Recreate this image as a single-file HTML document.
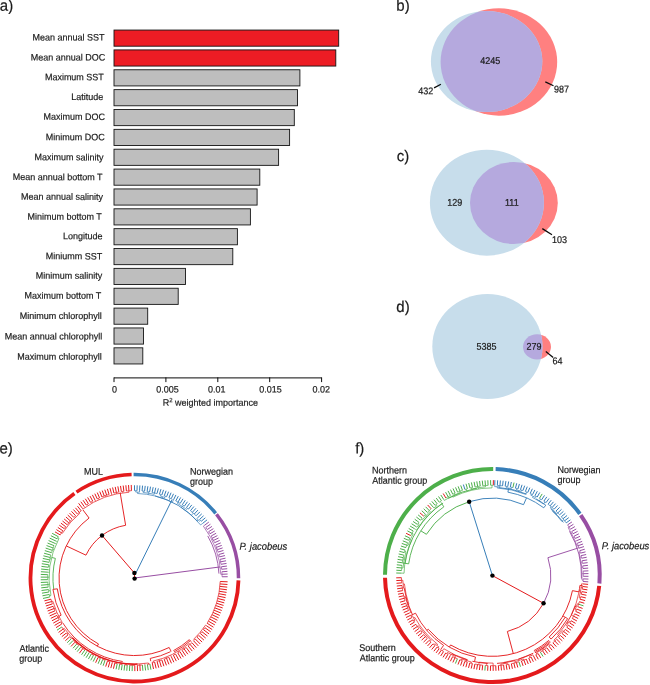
<!DOCTYPE html>
<html lang="en"><head><meta charset="utf-8"><title>Figure</title>
<style>html,body{margin:0;padding:0;background:#fff;}svg{display:block;}</style>
</head><body>
<svg width="650" height="685" viewBox="0 0 650 685">
<rect x="0" y="0" width="650" height="685" fill="#fff"/>
<g id="panel-a">
<text transform="matrix(1 0.001 0 1.04 -0.2 10.7)" font-size="15" font-family="Liberation Sans, Arial, Helvetica, sans-serif" stroke="#1a1a1a" stroke-width="0.18" fill="#1a1a1a">a)</text>
<rect x="114" y="30.05" width="224.7" height="16.15" fill="#ed1c24" stroke="#141414" stroke-width="0.9"/>
<text transform="matrix(1 0.001 0 1.04 104.55 40.6)" font-size="9" text-anchor="end" font-family="Liberation Sans, Arial, Helvetica, sans-serif" stroke="#1a1a1a" stroke-width="0.18" fill="#1a1a1a">Mean annual SST</text>
<rect x="114" y="49.91" width="221.8" height="16.15" fill="#ed1c24" stroke="#141414" stroke-width="0.9"/>
<text transform="matrix(1 0.001 0 1.04 105.25 60.5)" font-size="9" text-anchor="end" font-family="Liberation Sans, Arial, Helvetica, sans-serif" stroke="#1a1a1a" stroke-width="0.18" fill="#1a1a1a">Mean annual DOC</text>
<rect x="114" y="69.77" width="185.9" height="16.15" fill="#bebebe" stroke="#141414" stroke-width="0.9"/>
<text transform="matrix(1 0.001 0 1.04 103.85 80.3)" font-size="9" text-anchor="end" font-family="Liberation Sans, Arial, Helvetica, sans-serif" stroke="#1a1a1a" stroke-width="0.18" fill="#1a1a1a">Maximum SST</text>
<rect x="114" y="89.63" width="183.5" height="16.15" fill="#bebebe" stroke="#141414" stroke-width="0.9"/>
<text transform="matrix(1 0.001 0 1.04 103.25 100)" font-size="9" text-anchor="end" font-family="Liberation Sans, Arial, Helvetica, sans-serif" stroke="#1a1a1a" stroke-width="0.18" fill="#1a1a1a">Latitude</text>
<rect x="114" y="109.49" width="180.3" height="16.15" fill="#bebebe" stroke="#141414" stroke-width="0.9"/>
<text transform="matrix(1 0.001 0 1.04 104.95 119.9)" font-size="9" text-anchor="end" font-family="Liberation Sans, Arial, Helvetica, sans-serif" stroke="#1a1a1a" stroke-width="0.18" fill="#1a1a1a">Maximum DOC</text>
<rect x="114" y="129.35" width="175.6" height="16.15" fill="#bebebe" stroke="#141414" stroke-width="0.9"/>
<text transform="matrix(1 0.001 0 1.04 104.8 140.2)" font-size="9" text-anchor="end" font-family="Liberation Sans, Arial, Helvetica, sans-serif" stroke="#1a1a1a" stroke-width="0.18" fill="#1a1a1a">Minimum DOC</text>
<rect x="114" y="149.21" width="164.6" height="16.15" fill="#bebebe" stroke="#141414" stroke-width="0.9"/>
<text transform="matrix(1 0.001 0 1.04 103.4 160.4)" font-size="9" text-anchor="end" font-family="Liberation Sans, Arial, Helvetica, sans-serif" stroke="#1a1a1a" stroke-width="0.18" fill="#1a1a1a">Maximum salinity</text>
<rect x="114" y="169.07" width="145.8" height="16.15" fill="#bebebe" stroke="#141414" stroke-width="0.9"/>
<text transform="matrix(1 0.001 0 1.04 102.6 180.2)" font-size="9" text-anchor="end" font-family="Liberation Sans, Arial, Helvetica, sans-serif" stroke="#1a1a1a" stroke-width="0.18" fill="#1a1a1a">Mean annual bottom T</text>
<rect x="114" y="188.93" width="143.1" height="16.15" fill="#bebebe" stroke="#141414" stroke-width="0.9"/>
<text transform="matrix(1 0.001 0 1.04 102.9 199.9)" font-size="9" text-anchor="end" font-family="Liberation Sans, Arial, Helvetica, sans-serif" stroke="#1a1a1a" stroke-width="0.18" fill="#1a1a1a">Mean annual salinity</text>
<rect x="114" y="208.79" width="136.4" height="16.15" fill="#bebebe" stroke="#141414" stroke-width="0.9"/>
<text transform="matrix(1 0.001 0 1.04 101.85 219.8)" font-size="9" text-anchor="end" font-family="Liberation Sans, Arial, Helvetica, sans-serif" stroke="#1a1a1a" stroke-width="0.18" fill="#1a1a1a">Minimum bottom T</text>
<rect x="114" y="228.65" width="123.4" height="16.15" fill="#bebebe" stroke="#141414" stroke-width="0.9"/>
<text transform="matrix(1 0.001 0 1.04 102.45 239.3)" font-size="9" text-anchor="end" font-family="Liberation Sans, Arial, Helvetica, sans-serif" stroke="#1a1a1a" stroke-width="0.18" fill="#1a1a1a">Longitude</text>
<rect x="114" y="248.51" width="118.8" height="16.15" fill="#bebebe" stroke="#141414" stroke-width="0.9"/>
<text transform="matrix(1 0.001 0 1.04 102.15 259.4)" font-size="9" text-anchor="end" font-family="Liberation Sans, Arial, Helvetica, sans-serif" stroke="#1a1a1a" stroke-width="0.18" fill="#1a1a1a">Miniumm SST</text>
<rect x="114" y="268.37" width="71.5" height="16.15" fill="#bebebe" stroke="#141414" stroke-width="0.9"/>
<text transform="matrix(1 0.001 0 1.04 102.15 278.7)" font-size="9" text-anchor="end" font-family="Liberation Sans, Arial, Helvetica, sans-serif" stroke="#1a1a1a" stroke-width="0.18" fill="#1a1a1a">Minimum salinity</text>
<rect x="114" y="288.23" width="64.2" height="16.15" fill="#bebebe" stroke="#141414" stroke-width="0.9"/>
<text transform="matrix(1 0.001 0 1.04 101.2 298.7)" font-size="9" text-anchor="end" font-family="Liberation Sans, Arial, Helvetica, sans-serif" stroke="#1a1a1a" stroke-width="0.18" fill="#1a1a1a">Maximum bottom T</text>
<rect x="114" y="308.09" width="33.7" height="16.15" fill="#bebebe" stroke="#141414" stroke-width="0.9"/>
<text transform="matrix(1 0.001 0 1.04 101.7 319)" font-size="9" text-anchor="end" font-family="Liberation Sans, Arial, Helvetica, sans-serif" stroke="#1a1a1a" stroke-width="0.18" fill="#1a1a1a">Minimum chlorophyll</text>
<rect x="114" y="327.95" width="29.5" height="16.15" fill="#bebebe" stroke="#141414" stroke-width="0.9"/>
<text transform="matrix(1 0.001 0 1.04 102.3 339.5)" font-size="9" text-anchor="end" font-family="Liberation Sans, Arial, Helvetica, sans-serif" stroke="#1a1a1a" stroke-width="0.18" fill="#1a1a1a">Mean annual chlorophyll</text>
<rect x="114" y="347.81" width="28.8" height="16.15" fill="#bebebe" stroke="#141414" stroke-width="0.9"/>
<text transform="matrix(1 0.001 0 1.04 101.7 359.8)" font-size="9" text-anchor="end" font-family="Liberation Sans, Arial, Helvetica, sans-serif" stroke="#1a1a1a" stroke-width="0.18" fill="#1a1a1a">Maximum chlorophyll</text>
<path d="M114 377.9 H321.6" stroke="#0a0a0a" stroke-width="1" fill="none"/>
<path d="M114 377.4 V382.1" stroke="#0a0a0a" stroke-width="1" fill="none"/>
<text transform="matrix(1 0.001 0 1.04 114.5 392.4)" font-size="9" text-anchor="middle" font-family="Liberation Sans, Arial, Helvetica, sans-serif" stroke="#1a1a1a" stroke-width="0.18" fill="#1a1a1a">0</text>
<path d="M165.9 377.4 V382.1" stroke="#0a0a0a" stroke-width="1" fill="none"/>
<text transform="matrix(1 0.001 0 1.04 167.4 392.4)" font-size="9" text-anchor="middle" font-family="Liberation Sans, Arial, Helvetica, sans-serif" stroke="#1a1a1a" stroke-width="0.18" fill="#1a1a1a">0.005</text>
<path d="M217.8 377.4 V382.1" stroke="#0a0a0a" stroke-width="1" fill="none"/>
<text transform="matrix(1 0.001 0 1.04 216.7 392.4)" font-size="9" text-anchor="middle" font-family="Liberation Sans, Arial, Helvetica, sans-serif" stroke="#1a1a1a" stroke-width="0.18" fill="#1a1a1a">0.01</text>
<path d="M269.7 377.4 V382.1" stroke="#0a0a0a" stroke-width="1" fill="none"/>
<text transform="matrix(1 0.001 0 1.04 270.6 392.4)" font-size="9" text-anchor="middle" font-family="Liberation Sans, Arial, Helvetica, sans-serif" stroke="#1a1a1a" stroke-width="0.18" fill="#1a1a1a">0.015</text>
<path d="M321.6 377.4 V382.1" stroke="#0a0a0a" stroke-width="1" fill="none"/>
<text transform="matrix(1 0.001 0 1.04 321.2 392.4)" font-size="9" text-anchor="middle" font-family="Liberation Sans, Arial, Helvetica, sans-serif" stroke="#1a1a1a" stroke-width="0.18" fill="#1a1a1a">0.02</text>
<text transform="matrix(1 0.001 0 1.04 210.4 405.7)" font-size="9" text-anchor="middle" font-family="Liberation Sans, Arial, Helvetica, sans-serif" stroke="#1a1a1a" stroke-width="0.18" fill="#1a1a1a">R<tspan font-size="6" dy="-3.4">2</tspan><tspan dy="3.4"> weighted importance</tspan></text>
</g>
<g>
<text transform="matrix(1 0.001 0 1.04 396.3 10.8)" font-size="15" font-family="Liberation Sans, Arial, Helvetica, sans-serif" stroke="#1a1a1a" stroke-width="0.18" fill="#1a1a1a">b)</text>
<clipPath id="vc1"><ellipse cx="486.6" cy="61.5" rx="55.7" ry="50.5"/></clipPath>
<ellipse cx="498.9" cy="62" rx="58.3" ry="53.7" fill="#ff8080"/>
<ellipse cx="486.6" cy="61.5" rx="55.7" ry="50.5" fill="#c7ddeb"/>
<ellipse cx="498.9" cy="62" rx="58.3" ry="53.7" fill="#b5a9de" clip-path="url(#vc1)"/>
<path d="M434.1 87.9 L440.9 84.3" stroke="#0a0a0a" stroke-width="1.25" fill="none"/>
<path d="M545.3 81.9 L553.5 85.8" stroke="#0a0a0a" stroke-width="1.25" fill="none"/>
<text transform="matrix(1 0.001 0 1.09 490.3 64)" font-size="9" text-anchor="middle" font-family="Liberation Sans, Arial, Helvetica, sans-serif" stroke="#1a1a1a" stroke-width="0.2" fill="#1a1a1a">4245</text>
<text transform="matrix(1 0.001 0 1.09 425.7 94.3)" font-size="9" text-anchor="middle" font-family="Liberation Sans, Arial, Helvetica, sans-serif" stroke="#1a1a1a" stroke-width="0.2" fill="#1a1a1a">432</text>
<text transform="matrix(1 0.001 0 1.09 561.5 92.6)" font-size="9" text-anchor="middle" font-family="Liberation Sans, Arial, Helvetica, sans-serif" stroke="#1a1a1a" stroke-width="0.2" fill="#1a1a1a">987</text>
</g>
<g>
<text transform="matrix(1 0.001 0 1.04 396.8 161.2)" font-size="15" font-family="Liberation Sans, Arial, Helvetica, sans-serif" stroke="#1a1a1a" stroke-width="0.18" fill="#1a1a1a">c)</text>
<clipPath id="vc2"><ellipse cx="486.9" cy="202.65" rx="57" ry="53"/></clipPath>
<ellipse cx="513.9" cy="203" rx="43.9" ry="41" fill="#ff8080"/>
<ellipse cx="486.9" cy="202.65" rx="57" ry="53" fill="#c7ddeb"/>
<ellipse cx="513.9" cy="203" rx="43.9" ry="41" fill="#b5a9de" clip-path="url(#vc2)"/>
<path d="M542.3 228.6 L552 234.8" stroke="#0a0a0a" stroke-width="1.25" fill="none"/>
<text transform="matrix(1 0.001 0 1.09 454.7 205.7)" font-size="9" text-anchor="middle" font-family="Liberation Sans, Arial, Helvetica, sans-serif" stroke="#1a1a1a" stroke-width="0.2" fill="#1a1a1a">129</text>
<text transform="matrix(1 0.001 0 1.09 511.8 205.7)" font-size="9" text-anchor="middle" font-family="Liberation Sans, Arial, Helvetica, sans-serif" stroke="#1a1a1a" stroke-width="0.2" fill="#1a1a1a">111</text>
<text transform="matrix(1 0.001 0 1.09 559.6 242.9)" font-size="9" text-anchor="middle" font-family="Liberation Sans, Arial, Helvetica, sans-serif" stroke="#1a1a1a" stroke-width="0.2" fill="#1a1a1a">103</text>
</g>
<g>
<text transform="matrix(1 0.001 0 1.04 396.3 311.9)" font-size="15" font-family="Liberation Sans, Arial, Helvetica, sans-serif" stroke="#1a1a1a" stroke-width="0.18" fill="#1a1a1a">d)</text>
<clipPath id="vc3"><ellipse cx="487.4" cy="346.5" rx="55.1" ry="52.6"/></clipPath>
<ellipse cx="537" cy="346.8" rx="14" ry="12.6" fill="#ff8080"/>
<ellipse cx="487.4" cy="346.5" rx="55.1" ry="52.6" fill="#c7ddeb"/>
<ellipse cx="537" cy="346.8" rx="14" ry="12.6" fill="#b5a9de" clip-path="url(#vc3)"/>
<path d="M545.8 351.6 L553.2 357.6" stroke="#0a0a0a" stroke-width="1.25" fill="none"/>
<text transform="matrix(1 0.001 0 1.09 486.5 349.7)" font-size="9" text-anchor="middle" font-family="Liberation Sans, Arial, Helvetica, sans-serif" stroke="#1a1a1a" stroke-width="0.2" fill="#1a1a1a">5385</text>
<text transform="matrix(1 0.001 0 1.09 534 349.7)" font-size="9" text-anchor="middle" font-family="Liberation Sans, Arial, Helvetica, sans-serif" stroke="#1a1a1a" stroke-width="0.2" fill="#1a1a1a">279</text>
<text transform="matrix(1 0.001 0 1.09 557.4 364.2)" font-size="9" text-anchor="middle" font-family="Liberation Sans, Arial, Helvetica, sans-serif" stroke="#1a1a1a" stroke-width="0.2" fill="#1a1a1a">64</text>
</g>
<g id="panel-e">
<text transform="matrix(1 0.001 0 1.04 -0.5 453.4)" font-size="15" font-family="Liberation Sans, Arial, Helvetica, sans-serif" stroke="#1a1a1a" stroke-width="0.18" fill="#1a1a1a">e)</text>
<path d="M215.67 513.29 A104.01 103.49 0 0 0 133.59 474.52" stroke="#377eb8" stroke-width="3.5" fill="none" stroke-linecap="butt"/>
<path d="M131.6 474.55 A104.01 103.49 0 0 0 76.49 492.1" stroke="#e41a1c" stroke-width="3.5" fill="none" stroke-linecap="butt"/>
<path d="M74.4 493.54 A104.01 103.49 0 1 0 238.48 580.35" stroke="#e41a1c" stroke-width="3.8" fill="none" stroke-linecap="butt"/>
<path d="M238.51 578.36 A104.01 103.49 0 0 0 216.46 514.29" stroke="#984ea3" stroke-width="3.5" fill="none" stroke-linecap="butt"/>
<path d="M207.07 519.84L202.86 523.21M205.36 517.78L201.24 521.28M203.59 515.78L199.58 519.39M201.76 513.82L197.85 517.55M199.87 511.92L196.08 515.76M197.93 510.08L194.25 514.02M195.94 508.29L192.37 512.34M193.9 506.56L190.45 510.71M191.81 504.89L188.48 509.13M189.67 503.27L186.46 507.61M187.48 501.72L184.41 506.15M185.25 500.24L182.31 504.75M182.98 498.82L180.17 503.41M180.67 497.46L177.99 502.14M178.32 496.17L175.78 500.92" stroke="#377eb8" stroke-width="1" fill="none"/>
<path d="M202.86 523.21L201.77 524.09M201.24 521.28A87.78 87.34 0 0 0 199.58 519.39M200.42 520.33L199.36 521.25M197.85 517.55L196.84 518.52M196.08 515.76A87.78 87.34 0 0 0 190.45 510.71M193.32 513.17L192.38 514.21M188.48 509.13A87.78 87.34 0 0 0 186.46 507.61M187.48 508.36L186.63 509.48M184.41 506.15A87.78 87.34 0 0 0 182.31 504.75M183.36 505.45L182.58 506.6M180.17 503.41A87.78 87.34 0 0 0 175.78 500.92M177.99 502.14L177.29 503.35M201.77 524.09L200.67 524.97M199.36 521.25A86.37 85.94 0 0 0 196.84 518.52M198.12 519.87L197.08 520.81M192.38 514.21L191.44 515.24M186.63 509.48A86.37 85.94 0 0 0 177.29 503.35M182.06 506.26L181.29 507.43M200.67 524.97A84.97 84.55 0 0 0 181.29 507.43" stroke="#377eb8" stroke-width="0.7" fill="none"/>
<path d="M175.93 494.95L173.53 499.77M173.51 493.8L171.25 498.69M171.06 492.71L168.94 497.67M168.58 491.7L166.6 496.71M166.07 490.76L164.23 495.83M163.53 489.89L161.84 495.01M160.97 489.1L159.43 494.26M158.38 488.38L157 493.58M155.78 487.73L154.54 492.97M153.16 487.16L152.07 492.43M150.52 486.66L149.59 491.96M147.87 486.24L147.1 491.57M145.21 485.89L144.59 491.24M142.54 485.62L142.07 490.99M139.86 485.43L139.55 490.81M137.18 485.32L137.03 490.7M134.5 485.28L134.5 490.66" stroke="#377eb8" stroke-width="1" fill="none"/>
<path d="M173.53 499.77L172.9 501.02M171.25 498.69A87.78 87.34 0 0 0 168.94 497.67M170.1 498.17L169.53 499.44M166.6 496.71A87.78 87.34 0 0 0 164.23 495.83M165.42 496.26L164.92 497.57M161.84 495.01A87.78 87.34 0 0 0 159.43 494.26M160.64 494.63L160.22 495.96M157 493.58A87.78 87.34 0 0 0 152.07 492.43M154.54 492.97L154.22 494.33M149.59 491.96A87.78 87.34 0 0 0 147.1 491.57M148.34 491.76L148.12 493.13M144.59 491.24A87.78 87.34 0 0 0 142.07 490.99M143.33 491.11L143.19 492.49M139.55 490.81L139.47 492.2M137.03 490.7A87.78 87.34 0 0 0 134.5 490.66M135.76 490.67L135.74 492.07M172.9 501.02L172.28 502.27M169.53 499.44L168.96 500.72M164.92 497.57A86.37 85.94 0 0 0 160.22 495.96M162.58 496.73L162.13 498.05M154.22 494.33A86.37 85.94 0 0 0 143.19 492.49M148.74 493.23L148.51 494.61M139.47 492.2A86.37 85.94 0 0 0 135.74 492.07M137.61 492.11L137.56 493.51M172.28 502.27A84.97 84.55 0 0 0 137.56 493.51" stroke="#377eb8" stroke-width="0.7" fill="none"/>
<path d="M197.64 521.43 A84.97 84.55 0 0 0 155.06 495.97" stroke="#377eb8" stroke-width="0.9" fill="none" stroke-linecap="butt"/>
<path d="M227.68 576.71L222.07 576.78M227.6 574.04L221.99 574.28M227.45 571.37L221.85 571.77M227.22 568.71L221.63 569.27M226.91 566.06L221.35 566.78M226.53 563.42L220.98 564.29M226.07 560.78L220.55 561.82M225.53 558.17L220.05 559.36M224.92 555.57L219.47 556.92M224.23 552.99L218.83 554.49M223.47 550.43L218.11 552.09M222.64 547.89L217.33 549.7M221.73 545.38L216.48 547.34M220.75 542.89L215.55 545.01M219.7 540.43L214.57 542.7M218.57 538.01L213.51 540.42M217.38 535.62L212.39 538.17M216.12 533.26L211.21 535.95M214.79 530.94L209.96 533.77M213.4 528.66L208.65 531.63M211.94 526.42L207.27 529.53M210.41 524.22L205.84 527.46M208.82 522.07L204.35 525.44" stroke="#984ea3" stroke-width="1" fill="none"/>
<path d="M222.07 576.78A87.57 87.14 0 0 0 221.85 571.77M221.99 574.28L220.79 574.33M221.63 569.27A87.57 87.14 0 0 0 221.35 566.78M221.5 568.02L220.3 568.16M220.98 564.29A87.57 87.14 0 0 0 220.05 559.36M220.55 561.82L219.37 562.04M219.47 556.92A87.57 87.14 0 0 0 218.83 554.49M219.16 555.7L218 556.01M218.11 552.09A87.57 87.14 0 0 0 215.55 545.01M216.91 548.52L215.78 548.92M214.57 542.7A87.57 87.14 0 0 0 211.21 535.95M212.96 539.29L211.88 539.82M209.96 533.77A87.57 87.14 0 0 0 208.65 531.63M209.31 532.7L208.28 533.32M207.27 529.53A87.57 87.14 0 0 0 205.84 527.46M206.56 528.49L205.57 529.17M204.35 525.44L203.39 526.16M220.79 574.33A86.37 85.94 0 0 0 203.39 526.16" stroke="#984ea3" stroke-width="0.7" fill="none"/>
<path d="M218.95 573.6 A84.57 84.15 0 0 0 207.74 535.93" stroke="#984ea3" stroke-width="0.9" fill="none" stroke-linecap="butt"/>
<path d="M131.23 484.94L131.44 490.72M128.54 485.07L128.91 490.84M125.86 485.28L126.39 491.04M123.18 485.56L123.88 491.3M120.51 485.93L121.37 491.64M117.85 486.37L118.88 492.06M115.2 486.88L116.4 492.54M112.57 487.47L113.93 493.09M109.96 488.14L111.49 493.72M107.37 488.88L109.06 494.41M104.8 489.69L106.65 495.18M102.26 490.58L104.26 496.01M99.74 491.54L101.9 496.91M97.26 492.57L99.57 497.88M94.8 493.67L97.27 498.91M92.38 494.85L94.99 500.01M89.99 496.09L92.75 501.17M87.64 497.4L90.55 502.4M85.32 498.77L88.38 503.69M83.05 500.21L86.25 505.04M80.82 501.72L84.15 506.46M78.64 503.29L82.1 507.93" stroke="#e41a1c" stroke-width="1" fill="none"/>
<path d="M131.44 490.72A87.78 87.34 0 0 0 126.39 491.04M128.91 490.84L129 492.23M123.88 491.3A87.78 87.34 0 0 0 121.37 491.64M122.63 491.47L122.82 492.85M118.88 492.06A87.78 87.34 0 0 0 113.93 493.09M116.4 492.54L116.69 493.91M111.49 493.72L111.85 495.07M109.06 494.41A87.78 87.34 0 0 0 101.9 496.91M105.45 495.58L105.92 496.9M99.57 497.88A87.78 87.34 0 0 0 97.27 498.91M98.41 498.38L98.99 499.66M94.99 500.01L95.62 501.26M92.75 501.17A87.78 87.34 0 0 0 90.55 502.4M91.64 501.78L92.33 503M88.38 503.69A87.78 87.34 0 0 0 86.25 505.04M87.31 504.36L88.06 505.54M84.15 506.46L84.96 507.6M82.1 507.93L82.94 509.05M129 492.23A86.37 85.94 0 0 0 82.94 509.05" stroke="#e41a1c" stroke-width="0.7" fill="none"/>
<path d="M77.49 506.17L81.22 510.87M75.44 507.84L79.3 512.42M73.43 509.56L77.42 514.03M71.47 511.34L75.59 515.69M69.57 513.17L73.82 517.41M67.72 515.06L72.09 519.17M65.93 517L70.41 520.98M64.19 518.99L68.79 522.84M62.51 521.02L67.22 524.75M60.89 523.11L65.7 526.7M59.34 525.24L64.25 528.69M57.84 527.42L62.85 530.72M56.41 529.63L61.51 532.8M55.04 531.89L60.23 534.91" stroke="#e41a1c" stroke-width="1" fill="none"/>
<path d="M81.22 510.87A85.97 85.54 0 0 0 77.42 514.03M79.3 512.42L79.94 513.19M75.59 515.69A85.97 85.54 0 0 0 73.82 517.41M74.7 516.54L75.4 517.26M72.09 519.17A85.97 85.54 0 0 0 67.22 524.75M69.59 521.91L70.35 522.56M65.7 526.7A85.97 85.54 0 0 0 64.25 528.69M64.97 527.69L65.78 528.28M62.85 530.72A85.97 85.54 0 0 0 60.23 534.91M61.51 532.8L62.36 533.32M79.94 513.19A84.97 84.55 0 0 0 62.36 533.32" stroke="#e41a1c" stroke-width="0.7" fill="none"/>
<path d="M52.16 533.33L58.31 536.67M50.9 535.71L57.15 538.87M49.71 538.12L56.05 541.1M48.59 540.57L55.01 543.36M47.54 543.04L54.05 545.66M46.57 545.55L53.14 547.97M45.66 548.08L52.31 550.32M44.83 550.64L51.54 552.68M44.08 553.22L50.84 555.07M43.4 555.82L50.21 557.48M42.8 558.44L49.65 559.9M42.27 561.07L49.17 562.34M41.82 563.72L48.75 564.79M41.44 566.38L48.4 567.25M41.14 569.06L48.13 569.72M40.92 571.73L47.92 572.2M40.78 574.42L47.79 574.69M40.72 577.1L47.73 577.17M40.73 579.79L47.74 579.66M40.82 582.48L47.83 582.14M40.99 585.16L47.98 584.62M41.24 587.84L48.21 587.1M41.56 590.5L48.51 589.57M41.96 593.16L48.88 592.03M42.44 595.81L49.32 594.47M42.99 598.44L49.83 596.91" stroke="#4daf4a" stroke-width="1" fill="none"/>
<path d="M58.31 536.67A86.77 86.34 0 0 0 57.15 538.87M57.72 537.77L58.97 538.42M56.05 541.1L57.32 541.7M55.01 543.36L56.3 543.92M54.05 545.66A86.77 86.34 0 0 0 51.54 552.68M52.72 549.14L54.04 549.61M50.84 555.07A86.77 86.34 0 0 0 49.17 562.34M49.93 558.69L51.29 559M48.75 564.79A86.77 86.34 0 0 0 48.4 567.25M48.57 566.02L49.96 566.21M48.13 569.72L49.52 569.86M47.92 572.2L49.32 572.3M47.79 574.69A86.77 86.34 0 0 0 47.74 579.66M47.73 577.17L49.13 577.18M47.83 582.14A86.77 86.34 0 0 0 48.21 587.1M47.98 584.62L49.38 584.52M48.51 589.57A86.77 86.34 0 0 0 48.88 592.03M48.69 590.8L50.07 590.59M49.32 594.47A86.77 86.34 0 0 0 49.83 596.91M49.57 595.69L50.94 595.41M58.97 538.42A85.37 84.94 0 0 0 50.94 595.41" stroke="#4daf4a" stroke-width="0.7" fill="none"/>
<path d="M55.36 558.37 A81.56 81.16 0 0 0 53.73 589.29" stroke="#4daf4a" stroke-width="0.9" fill="none" stroke-linecap="butt"/>
<path d="M55.36 558.37 L51.67 557.45" stroke="#4daf4a" stroke-width="0.9" fill="none"/>
<path d="M44.4 600.85L51 599.18M45.09 603.42L51.65 601.56M45.87 605.98L52.36 603.93M46.71 608.5L53.15 606.27M47.63 611.01L54 608.59M48.62 613.48L54.92 610.88M49.69 615.93L55.9 613.15M50.82 618.34L56.95 615.38M52.02 620.72L58.06 617.59M53.29 623.07L59.24 619.76M54.63 625.38L60.48 621.9M56.03 627.64L61.78 624.01" stroke="#e41a1c" stroke-width="1" fill="none"/>
<path d="M51 599.18A86.17 85.74 0 0 0 52.36 603.93M51.65 601.56L52.8 601.23M53.15 606.27A86.17 85.74 0 0 0 54.92 610.88M54 608.59L55.12 608.16M55.9 613.15L57 612.66M56.95 615.38A86.17 85.74 0 0 0 59.24 619.76M58.06 617.59L59.13 617.04M60.48 621.9A86.17 85.74 0 0 0 61.78 624.01M61.12 622.96L62.15 622.33M52.8 601.23A84.97 84.55 0 0 0 62.15 622.33" stroke="#e41a1c" stroke-width="0.7" fill="none"/>
<path d="M57 630.21L61.82 626.96M67.18 642.69L71.36 638.67M69.08 644.59L73.14 640.45M73.04 648.23L76.86 643.86M75.1 649.96L78.79 645.49M77.2 651.63L80.76 647.06M81.56 654.79L84.85 650.02M83.8 656.27L86.95 651.41M86.09 657.69L89.1 652.74M88.42 659.05L91.28 654.01M90.78 660.33L93.5 655.22M93.18 661.55L95.75 656.36" stroke="#4daf4a" stroke-width="1" fill="none"/>
<path d="M58.55 632.41L63.26 629.03M60.15 634.56L64.77 631.05M61.82 636.67L66.33 633.02M63.55 638.72L67.95 634.95M65.34 640.73L69.63 636.84M71.03 646.44L74.97 642.19M79.36 653.24L82.78 648.57" stroke="#e41a1c" stroke-width="1" fill="none"/>
<path d="M61.82 626.96A87.78 87.34 0 0 0 64.77 631.05M63.26 629.03L64.24 628.33M66.33 633.02A87.78 87.34 0 0 0 67.95 634.95M67.14 633.99L68.06 633.23M69.63 636.84A87.78 87.34 0 0 0 71.36 638.67M70.49 637.76L71.37 636.94M73.14 640.45A87.78 87.34 0 0 0 78.79 645.49M75.91 643.03L76.71 642.14M80.76 647.06A87.78 87.34 0 0 0 84.85 650.02M82.78 648.57L83.49 647.6M86.95 651.41L87.6 650.41M89.1 652.74L89.72 651.72M91.28 654.01A87.78 87.34 0 0 0 93.5 655.22M92.38 654.63L92.96 653.58M95.75 656.36L96.28 655.29M64.24 628.33A86.57 86.14 0 0 0 96.28 655.29" stroke="#e41a1c" stroke-width="0.7" fill="none"/>
<path d="M95.62 662.7L98.03 657.44M105.66 666.59L107.45 661.09M108.23 667.38L109.86 661.83M110.83 668.09L112.3 662.5M113.45 668.73L114.75 663.1M134.83 671.12L134.81 665.34M137.52 671.07L137.33 665.29M140.21 670.95L139.86 665.17" stroke="#e41a1c" stroke-width="1" fill="none"/>
<path d="M98.08 663.78L100.34 658.45M100.58 664.79L102.69 659.4M103.11 665.72L105.06 660.28M116.08 669.3L117.23 663.63M118.73 669.79L119.71 664.09M121.39 670.2L122.21 664.48M124.07 670.54L124.72 664.79M126.75 670.8L127.23 665.04M129.44 670.98L129.75 665.21M132.13 671.09L132.28 665.31M142.9 670.74L142.38 664.98M145.58 670.46L144.89 664.72M148.25 670.11L147.4 664.39M150.91 669.68L149.89 663.98" stroke="#4daf4a" stroke-width="1" fill="none"/>
<path d="M98.03 657.44A87.78 87.34 0 0 0 100.34 658.45M99.18 657.96L99.67 656.86M102.69 659.4A87.78 87.34 0 0 0 105.06 660.28M103.87 659.85L104.29 658.73M107.45 661.09A87.78 87.34 0 0 0 109.86 661.83M108.65 661.47L109.01 660.32M112.3 662.5L112.6 661.34M114.75 663.1A87.78 87.34 0 0 0 117.23 663.63M115.99 663.37L116.24 662.2M119.71 664.09A87.78 87.34 0 0 0 122.21 664.48M120.96 664.29L121.14 663.11M124.72 664.79A87.78 87.34 0 0 0 127.23 665.04M125.97 664.92L126.09 663.73M129.75 665.21A87.78 87.34 0 0 0 134.81 665.34M132.28 665.31L132.31 664.11M137.33 665.29A87.78 87.34 0 0 0 142.38 664.98M139.86 665.17L139.79 663.98M144.89 664.72L144.75 663.53M147.4 664.39A87.78 87.34 0 0 0 149.89 663.98M148.65 664.2L148.45 663.01M99.67 656.86A86.57 86.14 0 0 0 148.45 663.01" stroke="#e41a1c" stroke-width="0.7" fill="none"/>
<path d="M153.52 668.97L152.17 662.53M156.14 668.39L154.61 661.99M158.75 667.73L157.03 661.38M161.34 667L159.44 660.7M163.9 666.2L161.82 659.95M166.44 665.32L164.18 659.13M168.95 664.37L166.51 658.25M171.44 663.34L168.82 657.3M173.89 662.25L171.1 656.28M176.31 661.09L173.35 655.2M178.7 659.85L175.57 654.06M181.05 658.55L177.76 652.85M183.36 657.19L179.9 651.58M185.63 655.75L182.01 650.25M187.86 654.26L184.08 648.86M190.05 652.69L186.11 647.41M192.19 651.07L188.1 645.9M194.28 649.39L190.04 644.33M196.32 647.65L191.94 642.71" stroke="#e41a1c" stroke-width="1" fill="none"/>
<path d="M152.17 662.53A86.77 86.34 0 0 0 154.61 661.99M153.39 662.27L153.13 661.1M157.03 661.38A86.77 86.34 0 0 0 161.82 659.95M159.44 660.7L159.09 659.55M164.18 659.13A86.77 86.34 0 0 0 168.82 657.3M166.51 658.25L166.07 657.14M171.1 656.28L170.6 655.2M173.35 655.2A86.77 86.34 0 0 0 175.57 654.06M174.47 654.64L173.91 653.57M177.76 652.85A86.77 86.34 0 0 0 179.9 651.58M178.83 652.22L178.22 651.19M182.01 650.25A86.77 86.34 0 0 0 186.11 647.41M184.08 648.86L183.4 647.87M188.1 645.9A86.77 86.34 0 0 0 191.94 642.71M190.04 644.33L189.27 643.41M153.13 661.1A85.57 85.14 0 0 0 189.27 643.41" stroke="#e41a1c" stroke-width="0.7" fill="none"/>
<path d="M198.31 645.85L193.52 640.75M200.25 643.99L195.31 639.03M202.13 642.08L197.05 637.27M203.95 640.12L198.74 635.45M205.72 638.1L200.37 633.59M207.43 636.03L201.95 631.68M209.08 633.92L203.48 629.72M210.67 631.76L204.95 627.72M212.19 629.56L206.36 625.68" stroke="#e41a1c" stroke-width="1" fill="none"/>
<path d="M193.52 640.75A86.37 85.94 0 0 0 195.31 639.03M194.42 639.9L193.72 639.18M197.05 637.27A86.37 85.94 0 0 0 198.74 635.45M197.9 636.36L197.16 635.69M200.37 633.59A86.37 85.94 0 0 0 201.95 631.68M201.17 632.64L200.4 632M203.48 629.72A86.37 85.94 0 0 0 204.95 627.72M204.22 628.73L203.41 628.14M206.36 625.68L205.52 625.13M193.72 639.18A85.37 84.94 0 0 0 205.52 625.13" stroke="#e41a1c" stroke-width="0.7" fill="none"/>
<path d="M213.48 627.2L207.2 623.29M214.87 624.92L208.48 621.19M216.2 622.6L209.7 619.05M217.46 620.24L210.85 616.88M218.64 617.84L211.95 614.67M219.76 615.42L212.98 612.44M220.81 612.96L213.94 610.18M221.78 610.47L214.84 607.89M222.69 607.96L215.67 605.57M223.52 605.42L216.44 603.24M224.28 602.86L217.13 600.88M224.96 600.27L217.76 598.5M225.56 597.67L218.32 596.11M226.1 595.06L218.81 593.7M226.55 592.42L219.23 591.28M226.93 589.78L219.58 588.84M227.23 587.13L219.85 586.4M227.46 584.47L220.06 583.95M227.61 581.8L220.2 581.5" stroke="#e41a1c" stroke-width="1" fill="none"/>
<path d="M207.2 623.29A85.77 85.34 0 0 0 220.2 581.5" stroke="#e41a1c" stroke-width="0.7" fill="none"/>
<path d="M52.94 589.41 A82.36 81.95 0 0 0 61.11 615.21" stroke="#e41a1c" stroke-width="0.9" fill="none" stroke-linecap="butt"/>
<path d="M57.3 588.8 L52.94 589.41" stroke="#e41a1c" stroke-width="0.9" fill="none"/>
<path d="M61.11 615.21 L58.61 616.47" stroke="#e41a1c" stroke-width="0.9" fill="none"/>
<path d="M62.61 622.7 A84.77 84.35 0 0 0 122.7 661.53" stroke="#e41a1c" stroke-width="0.9" fill="none" stroke-linecap="butt"/>
<path d="M72.22 637.84 A86.57 86.14 0 0 0 137.52 664.09" stroke="#e41a1c" stroke-width="1.5" fill="none" stroke-linecap="butt"/>
<path d="M150.22 658.45 A82.36 81.95 0 0 0 170.61 651.66" stroke="#e41a1c" stroke-width="0.9" fill="none" stroke-linecap="butt"/>
<path d="M150.22 658.45 L150.75 661.19" stroke="#e41a1c" stroke-width="0.9" fill="none"/>
<path d="M169.16 647.48 L171.12 651.41" stroke="#e41a1c" stroke-width="0.9" fill="none"/>
<path d="M173.36 650.71 A82.77 82.35 0 0 0 189.34 639.68" stroke="#e41a1c" stroke-width="0.9" fill="none" stroke-linecap="butt"/>
<path d="M174.01 651.95 A84.17 83.75 0 0 0 190.27 640.72" stroke="#e41a1c" stroke-width="0.9" fill="none" stroke-linecap="butt"/>
<path d="M189.34 639.68 L191.2 641.77" stroke="#e41a1c" stroke-width="0.9" fill="none"/>
<path d="M89.09 518.04 A75.45 75.07 0 0 0 98.5 643.98" stroke="#e41a1c" stroke-width="0.95" fill="none" stroke-linecap="butt"/>
<path d="M98.5 643.98 L97.3 646.17" stroke="#e41a1c" stroke-width="0.95" fill="none"/>
<path d="M57.3 588.8 A77.96 77.57 0 0 0 169.16 647.48" stroke="#e41a1c" stroke-width="0.95" fill="none" stroke-linecap="butt"/>
<path d="M89.09 518.04 L82.88 509.84" stroke="#e41a1c" stroke-width="0.95" fill="none"/>
<path d="M125.64 525.29 A53.71 53.44 0 0 0 85.94 555.16" stroke="#e41a1c" stroke-width="0.95" fill="none" stroke-linecap="butt"/>
<path d="M125.64 525.29 L120.11 492.45" stroke="#e41a1c" stroke-width="0.95" fill="none"/>
<path d="M85.94 555.16 L66.29 545.92" stroke="#e41a1c" stroke-width="0.95" fill="none"/>
<path d="M134.4 573 L102.03 535.43" stroke="#e41a1c" stroke-width="1" fill="none"/>
<path d="M134.4 573 L134.6 578.6" stroke="#e41a1c" stroke-width="1" fill="none"/>
<path d="M135.9 573 L172.2 499.35" stroke="#377eb8" stroke-width="1" fill="none"/>
<path d="M134.6 578 L220.15 566.93" stroke="#984ea3" stroke-width="1" fill="none"/>
<circle cx="134.4" cy="573" r="2.2" fill="#000"/>
<circle cx="134.6" cy="578.6" r="2.2" fill="#000"/>
<circle cx="102.03" cy="535.43" r="2.2" fill="#000"/>
<text transform="matrix(1 0.001 0 1.09 84 474.8)" font-size="9" font-family="Liberation Sans, Arial, Helvetica, sans-serif" stroke="#1a1a1a" stroke-width="0.18" fill="#1a1a1a">MUL</text>
<text transform="matrix(1 0.001 0 1.09 190 474.7)" font-size="9" font-family="Liberation Sans, Arial, Helvetica, sans-serif" stroke="#1a1a1a" stroke-width="0.18" fill="#1a1a1a">Norwegian</text>
<text transform="matrix(1 0.001 0 1.09 190.1 484.7)" font-size="9" font-family="Liberation Sans, Arial, Helvetica, sans-serif" stroke="#1a1a1a" stroke-width="0.18" fill="#1a1a1a">group</text>
<text transform="matrix(1 0.001 0 1.09 239.6 549.8)" font-size="9.35" font-style="italic" font-family="Liberation Sans, Arial, Helvetica, sans-serif" stroke="#1a1a1a" stroke-width="0.18" fill="#1a1a1a">P. jacobeus</text>
<text transform="matrix(1 0.001 0 1.09 19.5 651.7)" font-size="9" font-family="Liberation Sans, Arial, Helvetica, sans-serif" stroke="#1a1a1a" stroke-width="0.18" fill="#1a1a1a">Atlantic</text>
<text transform="matrix(1 0.001 0 1.09 19.2 661.7)" font-size="9" font-family="Liberation Sans, Arial, Helvetica, sans-serif" stroke="#1a1a1a" stroke-width="0.18" fill="#1a1a1a">group</text>
</g>
<g id="panel-f">
<text transform="matrix(1 0.001 0 1.04 355.2 453.4)" font-size="15" font-family="Liberation Sans, Arial, Helvetica, sans-serif" stroke="#1a1a1a" stroke-width="0.18" fill="#1a1a1a">f)</text>
<path d="M579.86 513.8 A107.36 106.5 0 0 0 495.63 469.05" stroke="#377eb8" stroke-width="4" fill="none" stroke-linecap="butt"/>
<path d="M493.19 469 A107.36 106.5 0 0 0 384.99 574.76" stroke="#4daf4a" stroke-width="4" fill="none" stroke-linecap="butt"/>
<path d="M385.01 577.73 A107.36 106.5 0 0 0 599.2 585.89" stroke="#e41a1c" stroke-width="4" fill="none" stroke-linecap="butt"/>
<path d="M599.41 583.49 A107.36 106.5 0 0 0 580.72 515.02" stroke="#984ea3" stroke-width="4" fill="none" stroke-linecap="butt"/>
<path d="M493.36 480.13L493.3 485.3M443.19 493.53L445.85 497.97" stroke="#e41a1c" stroke-width="1" fill="none"/>
<path d="M490.59 480.14L490.68 485.31M487.82 480.23L488.07 485.39M485.06 480.4L485.45 485.55M482.3 480.65L482.84 485.78M479.55 480.97L480.24 486.09M476.81 481.38L477.65 486.48M474.09 481.86L475.08 486.93M471.38 482.42L472.51 487.46M468.68 483.06L469.97 488.07M466.01 483.77L467.44 488.74M460.73 485.43L462.44 490.31M458.13 486.37L459.98 491.2M455.56 487.38L457.55 492.16M453.01 488.47L455.15 493.19M450.51 489.63L452.77 494.28M448.03 490.86L450.43 495.45M445.59 492.16L448.12 496.68M440.83 494.97L443.62 499.33" stroke="#4daf4a" stroke-width="1" fill="none"/>
<path d="M463.36 484.56L464.93 489.49" stroke="#377eb8" stroke-width="1" fill="none"/>
<path d="M493.3 485.3A90.94 90.21 0 0 0 490.68 485.31M491.99 485.29L492 486.58M488.07 485.39A90.94 90.21 0 0 0 482.84 485.78M485.45 485.55L485.55 486.84M480.24 486.09A90.94 90.21 0 0 0 475.08 486.93M477.65 486.48L477.86 487.75M472.51 487.46A90.94 90.21 0 0 0 469.97 488.07M471.24 487.76L471.54 489.01M467.44 488.74A90.94 90.21 0 0 0 464.93 489.49M466.18 489.11L466.56 490.34M462.44 490.31A90.94 90.21 0 0 0 457.55 492.16M459.98 491.2L460.45 492.4M455.15 493.19A90.94 90.21 0 0 0 452.77 494.28M453.95 493.73L454.5 494.9M450.43 495.45A90.94 90.21 0 0 0 445.85 497.97M448.12 496.68L448.76 497.81M443.62 499.33L444.32 500.42M492 486.58L492 487.87M485.55 486.84A89.63 88.92 0 0 0 471.54 489.01M478.5 487.65L478.7 488.93M466.56 490.34L466.93 491.58M460.45 492.4A89.63 88.92 0 0 0 444.32 500.42M452.18 496.01L452.76 497.17M492 487.87A88.33 87.63 0 0 0 452.76 497.17" stroke="#4daf4a" stroke-width="0.7" fill="none"/>
<path d="M438.52 496.48L441.43 500.76M436.25 498.05L439.28 502.24M434.02 499.68L437.18 503.79M431.84 501.38L435.12 505.39M429.72 503.14L433.11 507.06M425.62 506.83L429.24 510.55M423.66 508.77L427.38 512.38M421.75 510.76L425.57 514.27M418.11 514.9L422.13 518.18M416.38 517.04L420.5 520.21M414.72 519.24L418.92 522.29M413.12 521.48L417.41 524.4M411.58 523.76L415.96 526.57M410.11 526.09L414.57 528.77" stroke="#4daf4a" stroke-width="1" fill="none"/>
<path d="M427.64 504.96L431.15 508.78M419.9 512.8L423.82 516.2" stroke="#e41a1c" stroke-width="1" fill="none"/>
<path d="M441.43 500.76A90.94 90.21 0 0 0 439.28 502.24M440.35 501.49L441.1 502.55M437.18 503.79A90.94 90.21 0 0 0 435.12 505.39M436.15 504.58L436.95 505.6M433.11 507.06L433.96 508.04M431.15 508.78A90.94 90.21 0 0 0 427.38 512.38M429.24 510.55L430.14 511.48M425.57 514.27A90.94 90.21 0 0 0 423.82 516.2M424.69 515.23L425.66 516.09M422.13 518.18A90.94 90.21 0 0 0 420.5 520.21M421.31 519.19L422.32 520M418.92 522.29A90.94 90.21 0 0 0 417.41 524.4M418.16 523.34L419.22 524.09M415.96 526.57L417.05 527.27M414.57 528.77L415.68 529.44M441.1 502.55L441.84 503.61M436.95 505.6A89.63 88.92 0 0 0 433.96 508.04M435.44 506.8L436.27 507.8M430.14 511.48A89.63 88.92 0 0 0 422.32 520M426.09 515.61L427.06 516.48M419.22 524.09A89.63 88.92 0 0 0 417.05 527.27M418.12 525.67L419.19 526.39M415.68 529.44L416.79 530.11M441.84 503.61A88.33 87.63 0 0 0 416.79 530.11" stroke="#4daf4a" stroke-width="0.7" fill="none"/>
<path d="M408.71 528.46L413.24 531.01M407.38 530.87L411.98 533.29M404.93 535.8L409.67 537.95M403.82 538.31L408.61 540.32M402.77 540.85L407.63 542.73M401.81 543.43L406.71 545.16M400.91 546.03L405.86 547.62M400.09 548.65L405.09 550.11M399.35 551.3L404.39 552.61M398.69 553.96L403.76 555.13M398.1 556.65L403.21 557.67M397.59 559.35L402.73 560.22M397.17 562.06L402.32 562.79M396.81 564.79L401.99 565.37M396.54 567.52L401.73 567.95M396.35 570.26L401.55 570.54M396.24 573L401.44 573.14" stroke="#4daf4a" stroke-width="1" fill="none"/>
<path d="M406.12 533.32L410.79 535.6" stroke="#e41a1c" stroke-width="1" fill="none"/>
<path d="M413.24 531.01A90.94 90.21 0 0 0 410.79 535.6M411.98 533.29L413.13 533.89M409.67 537.95A90.94 90.21 0 0 0 408.61 540.32M409.13 539.13L410.32 539.65M407.63 542.73A90.94 90.21 0 0 0 405.86 547.62M406.71 545.16L407.94 545.6M405.09 550.11A90.94 90.21 0 0 0 404.39 552.61M404.73 551.35L405.99 551.7M403.76 555.13A90.94 90.21 0 0 0 402.32 562.79M402.96 558.94L404.24 559.18M401.99 565.37A90.94 90.21 0 0 0 401.55 570.54M401.73 567.95L403.03 568.06M401.44 573.14L402.75 573.17M413.13 533.89A89.63 88.92 0 0 0 407.94 545.6M410.32 539.65L411.51 540.17M405.99 551.7A89.63 88.92 0 0 0 403.03 568.06M404.12 559.81L405.4 560.04M402.75 573.17L404.05 573.21M411.51 540.17A88.33 87.63 0 0 0 404.05 573.21" stroke="#4daf4a" stroke-width="0.7" fill="none"/>
<path d="M570.43 519.84L566.2 522.86M568.78 517.64L564.64 520.77M567.07 515.48L563.02 518.73M565.29 513.37L561.34 516.73M563.46 511.31L559.61 514.79M561.57 509.31L557.82 512.89M559.62 507.36L555.97 511.05M557.61 505.46L554.08 509.26M555.55 503.63L552.13 507.52M553.44 501.85L550.13 505.84M551.28 500.14L548.09 504.22" stroke="#377eb8" stroke-width="1" fill="none"/>
<path d="M566.2 522.86A90.94 90.21 0 0 0 561.34 516.73M563.84 519.74L562.81 520.54M559.61 514.79A90.94 90.21 0 0 0 555.97 511.05M557.82 512.89L556.88 513.79M554.08 509.26A90.94 90.21 0 0 0 548.09 504.22M551.14 506.67L550.29 507.66M562.81 520.54L561.79 521.34M556.88 513.79A89.63 88.92 0 0 0 550.29 507.66M553.67 510.64L552.78 511.58M561.79 521.34A88.33 87.63 0 0 0 552.78 511.58" stroke="#377eb8" stroke-width="0.7" fill="none"/>
<path d="M549.07 498.49L545.99 502.66M546.81 496.9L543.86 501.16M544.5 495.38L541.68 499.72M539.77 492.53L537.2 497.02M537.34 491.21L534.9 495.78M534.87 489.96L532.57 494.59M532.37 488.78L530.2 493.48" stroke="#377eb8" stroke-width="1" fill="none"/>
<path d="M542.16 493.92L539.46 498.34" stroke="#4daf4a" stroke-width="1" fill="none"/>
<path d="M545.99 502.66A90.94 90.21 0 0 0 543.86 501.16M544.93 501.9L544.18 502.95M541.68 499.72A90.94 90.21 0 0 0 539.46 498.34M540.57 499.02L539.88 500.11M537.2 497.02A90.94 90.21 0 0 0 534.9 495.78M536.05 496.39L535.43 497.52M532.57 494.59A90.94 90.21 0 0 0 530.2 493.48M531.39 494.03L530.83 495.19M544.18 502.95L543.42 504.01M539.88 500.11L539.19 501.21M535.43 497.52A89.63 88.92 0 0 0 530.83 495.19M533.15 496.33L532.56 497.48M543.42 504.01A88.33 87.63 0 0 0 532.56 497.48" stroke="#377eb8" stroke-width="0.7" fill="none"/>
<path d="M529.84 487.67L527.81 492.43M527.27 486.64L525.38 491.45M524.68 485.68L522.93 490.54M522.06 484.79L520.45 489.71M519.41 483.98L517.95 488.94M516.75 483.25L515.43 488.24M511.35 482.01L510.32 487.07M508.63 481.5L507.75 486.59M505.9 481.08L505.16 486.19M503.15 480.73L502.57 485.86M500.4 480.46L499.96 485.61M497.63 480.27L497.35 485.43M494.87 480.16L494.73 485.32" stroke="#377eb8" stroke-width="1" fill="none"/>
<path d="M514.06 482.59L512.88 487.62" stroke="#4daf4a" stroke-width="1" fill="none"/>
<path d="M527.81 492.43A90.94 90.21 0 0 0 525.38 491.45M526.6 491.93L526.11 493.13M522.93 490.54A90.94 90.21 0 0 0 520.45 489.71M521.69 490.12L521.27 491.34M517.95 488.94A90.94 90.21 0 0 0 515.43 488.24M516.69 488.58L516.34 489.83M512.88 487.62A90.94 90.21 0 0 0 510.32 487.07M511.61 487.34L511.33 488.6M507.75 486.59A90.94 90.21 0 0 0 505.16 486.19M506.46 486.38L506.26 487.66M502.57 485.86A90.94 90.21 0 0 0 497.35 485.43M499.96 485.61L499.85 486.89M494.73 485.32L494.7 486.61M526.11 493.13L525.62 494.33M521.27 491.34A89.63 88.92 0 0 0 516.34 489.83M518.82 490.55L518.43 491.78M511.33 488.6A89.63 88.92 0 0 0 506.26 487.66M508.8 488.09L508.56 489.36M499.85 486.89A89.63 88.92 0 0 0 494.7 486.61M497.28 486.72L497.2 488.01M525.62 494.33A88.33 87.63 0 0 0 497.2 488.01" stroke="#377eb8" stroke-width="0.7" fill="none"/>
<path d="M588.28 581.82L583.09 581.48M588.43 579.08L583.22 578.88M588.49 576.33L583.28 576.29M588.47 573.59L583.27 573.69M588.38 570.84L583.18 571.09M588.2 568.1L583.01 568.5M587.95 565.36L582.77 565.91M587.62 562.64L582.46 563.34M587.2 559.92L582.07 560.77M586.71 557.22L581.6 558.21M586.14 554.53L581.06 555.67M585.49 551.86L580.45 553.14M584.77 549.21L579.76 550.63" stroke="#984ea3" stroke-width="1" fill="none"/>
<path d="M583.09 581.48A90.94 90.21 0 0 0 583.22 578.88M583.16 580.18L582.06 580.13M583.28 576.29A90.94 90.21 0 0 0 583.18 571.09M583.27 573.69L582.17 573.71M583.01 568.5A90.94 90.21 0 0 0 582.77 565.91M582.9 567.21L581.8 567.31M582.46 563.34A90.94 90.21 0 0 0 582.07 560.77M582.27 562.05L581.18 562.21M581.6 558.21A90.94 90.21 0 0 0 581.06 555.67M581.34 556.94L580.26 557.16M580.45 553.14A90.94 90.21 0 0 0 579.76 550.63M580.12 551.89L579.05 552.17M582.06 580.13A89.83 89.12 0 0 0 579.05 552.17" stroke="#984ea3" stroke-width="0.7" fill="none"/>
<path d="M583.97 546.58L579.01 548.15M583.09 543.98L578.18 545.68M582.14 541.4L577.27 543.25M581.11 538.85L576.3 540.83M580.01 536.33L575.26 538.45M578.84 533.84L574.15 536.1M577.59 531.39L572.97 533.78M576.28 528.97L571.73 531.49M574.89 526.59L570.42 529.24M573.44 524.25L569.04 527.03M571.92 521.96L567.61 524.86" stroke="#984ea3" stroke-width="1" fill="none"/>
<path d="M579.01 548.15A90.94 90.21 0 0 0 577.27 543.25M578.18 545.68L577.14 546.05M576.3 540.83L575.29 541.25M575.26 538.45A90.94 90.21 0 0 0 574.15 536.1M574.72 537.27L573.72 537.73M572.97 533.78A90.94 90.21 0 0 0 571.73 531.49M572.36 532.63L571.39 533.15M570.42 529.24A90.94 90.21 0 0 0 567.61 524.86M569.04 527.03L568.12 527.62M577.14 546.05A89.83 89.12 0 0 0 568.12 527.62" stroke="#984ea3" stroke-width="0.7" fill="none"/>
<path d="M396.23 577.83L401.44 577.7M396.34 580.57L401.54 580.3M396.53 583.31L401.72 582.89M396.8 586.05L401.97 585.48M397.14 588.77L402.3 588.05M397.57 591.49L402.7 590.62M398.07 594.19L403.18 593.18M398.65 596.87L403.73 595.72M399.31 599.54L404.35 598.24M400.05 602.19L405.05 600.74M400.86 604.81L405.82 603.23M401.75 607.42L406.66 605.69M402.71 609.99L407.57 608.12M403.75 612.54L408.55 610.53M404.86 615.05L409.6 612.91" stroke="#e41a1c" stroke-width="1" fill="none"/>
<path d="M401.44 577.7A90.94 90.21 0 0 0 401.72 582.89M401.54 580.3L402.84 580.23M401.97 585.48A90.94 90.21 0 0 0 402.7 590.62M402.3 588.05L403.59 587.88M403.18 593.18A90.94 90.21 0 0 0 405.05 600.74M404.03 596.98L405.29 596.67M405.82 603.23A90.94 90.21 0 0 0 408.55 610.53M407.1 606.91L408.32 606.46M409.6 612.91L410.79 612.37M402.84 580.23A89.63 88.92 0 0 0 403.59 587.88M403.13 584.06L404.43 583.94M405.29 596.67A89.63 88.92 0 0 0 410.79 612.37M407.67 604.65L408.9 604.23M404.43 583.94A88.33 87.63 0 0 0 408.9 604.23" stroke="#e41a1c" stroke-width="0.7" fill="none"/>
<path d="M406.05 617.53L410.72 615.26M407.3 619.98L411.91 617.57M408.63 622.39L413.16 619.85M410.03 624.76L414.48 622.1M411.49 627.1L415.87 624.3M413.02 629.38L417.32 626.47M414.62 631.63L418.83 628.59M416.28 633.83L420.4 630.67M418 635.97L422.03 632.7M419.79 638.07L423.72 634.68M421.64 640.12L425.47 636.62M423.54 642.11L427.27 638.5M425.5 644.05L429.12 640.34M427.52 645.93L431.03 642.12M429.59 647.75L432.99 643.84M431.71 649.52L435 645.51M433.89 651.22L437.05 647.12M436.11 652.86L439.16 648.67" stroke="#e41a1c" stroke-width="1" fill="none"/>
<path d="M410.72 615.26A90.94 90.21 0 0 0 411.91 617.57M411.31 616.42L412.47 615.83M413.16 619.85A90.94 90.21 0 0 0 414.48 622.1M413.82 620.98L414.94 620.33M415.87 624.3A90.94 90.21 0 0 0 418.83 628.59M417.32 626.47L418.39 625.74M420.4 630.67A90.94 90.21 0 0 0 422.03 632.7M421.21 631.69L422.23 630.88M423.72 634.68A90.94 90.21 0 0 0 427.27 638.5M425.47 636.62L426.42 635.74M429.12 640.34A90.94 90.21 0 0 0 431.03 642.12M430.07 641.23L430.96 640.29M432.99 643.84A90.94 90.21 0 0 0 435 645.51M433.99 644.68L434.82 643.69M437.05 647.12A90.94 90.21 0 0 0 439.16 648.67M438.1 647.9L438.88 646.86M412.47 615.83A89.63 88.92 0 0 0 414.94 620.33M413.67 618.1L414.81 617.48M418.39 625.74A89.63 88.92 0 0 0 430.96 640.29M424.28 633.35L425.27 632.51M434.82 643.69A89.63 88.92 0 0 0 438.88 646.86M436.83 645.3L437.63 644.29M414.81 617.48A88.33 87.63 0 0 0 437.63 644.29" stroke="#e41a1c" stroke-width="0.7" fill="none"/>
<path d="M438.38 654.43L441.3 650.15M440.69 655.94L443.49 651.58M443.05 657.38L445.72 652.95M445.45 658.76L447.99 654.25M447.88 660.06L450.29 655.48M450.35 661.3L452.63 656.65M452.86 662.46L455 657.75M457.97 664.57L459.84 659.75M460.57 665.52L462.29 660.64M463.2 666.39L464.78 661.46M465.85 667.18L467.28 662.22M468.52 667.9L469.81 662.9M471.21 668.54L472.36 663.5" stroke="#e41a1c" stroke-width="1" fill="none"/>
<path d="M455.4 663.55L457.4 658.78" stroke="#4daf4a" stroke-width="1" fill="none"/>
<path d="M441.3 650.15A90.94 90.21 0 0 0 443.49 651.58M442.39 650.88L443.11 649.8M445.72 652.95A90.94 90.21 0 0 0 447.99 654.25M446.85 653.6L447.5 652.49M450.29 655.48L450.89 654.34M452.63 656.65A90.94 90.21 0 0 0 457.4 658.78M455 657.75L455.54 656.57M459.84 659.75A90.94 90.21 0 0 0 462.29 660.64M461.06 660.2L461.51 658.99M464.78 661.46A90.94 90.21 0 0 0 467.28 662.22M466.03 661.85L466.41 660.61M469.81 662.9A90.94 90.21 0 0 0 472.36 663.5M471.08 663.21L471.39 661.95M443.11 649.8L443.82 648.72M447.5 652.49A89.63 88.92 0 0 0 455.54 656.57M451.47 654.63L452.06 653.48M461.51 658.99A89.63 88.92 0 0 0 471.39 661.95M466.41 660.61L466.78 659.38M443.82 648.72A88.33 87.63 0 0 0 466.78 659.38" stroke="#e41a1c" stroke-width="0.7" fill="none"/>
<path d="M473.92 669.11L474.92 664.04M476.65 669.6L477.5 664.5M479.38 670L480.09 664.89M482.13 670.34L482.69 665.2M487.65 670.76L487.91 665.6M490.42 670.86L490.52 665.69M493.19 670.87L493.14 665.71M495.96 670.81L495.76 665.65" stroke="#e41a1c" stroke-width="1" fill="none"/>
<path d="M484.89 670.59L485.29 665.44" stroke="#4daf4a" stroke-width="1" fill="none"/>
<path d="M474.92 664.04A90.94 90.21 0 0 0 482.69 665.2M478.79 664.7L478.99 663.42M485.29 665.44A90.94 90.21 0 0 0 487.91 665.6M486.6 665.53L486.68 664.24M490.52 665.69A90.94 90.21 0 0 0 495.76 665.65M493.14 665.71L493.13 664.41M478.99 663.42L479.18 662.15M486.68 664.24L486.77 662.95M493.13 664.41L493.12 663.12M479.18 662.15A88.33 87.63 0 0 0 493.12 663.12" stroke="#e41a1c" stroke-width="0.7" fill="none"/>
<path d="M498.72 670.67L498.38 665.51M501.48 670.44L500.99 665.3M504.23 670.14L503.59 665.02M506.98 669.77L506.18 664.66M509.71 669.31L508.77 664.23M512.42 668.77L511.33 663.72M515.12 668.16L513.89 663.14M517.8 667.47L516.42 662.49M523.1 665.87L521.43 660.97M525.71 664.95L523.9 660.11M528.29 663.96L526.34 659.17M530.84 662.9L528.76 658.16M533.36 661.76L531.14 657.09M535.85 660.56L533.49 655.95" stroke="#e41a1c" stroke-width="1" fill="none"/>
<path d="M520.46 666.71L518.94 661.77" stroke="#4daf4a" stroke-width="1" fill="none"/>
<path d="M498.38 665.51A90.94 90.21 0 0 0 503.59 665.02M500.99 665.3L500.86 664.02M506.18 664.66A90.94 90.21 0 0 0 508.77 664.23M507.48 664.45L507.26 663.18M511.33 663.72A90.94 90.21 0 0 0 518.94 661.77M515.16 662.83L514.83 661.58M521.43 660.97A90.94 90.21 0 0 0 526.34 659.17M523.9 660.11L523.45 658.9M528.76 658.16A90.94 90.21 0 0 0 531.14 657.09M529.95 657.64L529.41 656.46M533.49 655.95L532.9 654.8M500.86 664.02A89.63 88.92 0 0 0 507.26 663.18M504.07 663.66L503.9 662.37M514.83 661.58A89.63 88.92 0 0 0 523.45 658.9M519.17 660.34L518.78 659.11M529.41 656.46A89.63 88.92 0 0 0 532.9 654.8M531.17 655.65L530.6 654.48M503.9 662.37A88.33 87.63 0 0 0 530.6 654.48" stroke="#e41a1c" stroke-width="0.7" fill="none"/>
<path d="M538.3 659.28L535.81 654.74M540.71 657.93L538.09 653.47M545.42 655.03L542.54 650.72M547.7 653.48L544.7 649.26M549.94 651.87L546.82 647.73M552.14 650.19L548.9 646.15M554.28 648.46L550.92 644.5" stroke="#e41a1c" stroke-width="1" fill="none"/>
<path d="M543.08 656.52L540.34 652.13" stroke="#4daf4a" stroke-width="1" fill="none"/>
<path d="M535.81 654.74A90.94 90.21 0 0 0 538.09 653.47M536.96 654.11L536.32 652.99M540.34 652.13A90.94 90.21 0 0 0 546.82 647.73M543.63 650L542.89 648.93M548.9 646.15A90.94 90.21 0 0 0 550.92 644.5M549.92 645.33L549.09 644.33M536.32 652.99A89.63 88.92 0 0 0 549.09 644.33M542.89 648.93L542.16 647.87" stroke="#e41a1c" stroke-width="0.7" fill="none"/>
<path d="M556.37 646.66L552.9 642.8M558.41 644.8L554.83 641.04M560.39 642.88L556.71 639.23M562.32 640.91L558.53 637.37M564.19 638.88L560.3 635.45M566 636.81L562.01 633.49M567.75 634.68L563.67 631.47M569.44 632.5L565.26 629.41M571.06 630.27L566.8 627.31M572.62 628L568.27 625.16M574.11 625.69L569.68 622.97M575.53 623.33L571.02 620.74" stroke="#e41a1c" stroke-width="1" fill="none"/>
<path d="M552.9 642.8A90.94 90.21 0 0 0 556.71 639.23M554.83 641.04L553.94 640.11M558.53 637.37A90.94 90.21 0 0 0 560.3 635.45M559.42 636.42L558.46 635.54M562.01 633.49A90.94 90.21 0 0 0 565.26 629.41M563.67 631.47L562.64 630.67M566.8 627.31A90.94 90.21 0 0 0 568.27 625.16M567.54 626.24L566.46 625.51M569.68 622.97A90.94 90.21 0 0 0 571.02 620.74M570.36 621.86L569.24 621.2M553.94 640.11A89.63 88.92 0 0 0 562.64 630.67M558.46 635.54L557.5 634.67M566.46 625.51A89.63 88.92 0 0 0 569.24 621.2M567.88 623.37L566.79 622.68M557.5 634.67A88.33 87.63 0 0 0 566.79 622.68" stroke="#e41a1c" stroke-width="0.7" fill="none"/>
<path d="M576.88 620.94L572.3 618.48M578.17 618.5L573.52 616.17M579.38 616.03L574.67 613.84M580.52 613.53L575.74 611.47M581.59 611L576.75 609.07M582.58 608.43L577.69 606.65M584.34 603.23L579.36 601.72M585.11 600.59L580.08 599.23M585.8 597.93L580.74 596.71M586.41 595.25L581.32 594.18M586.94 592.55L581.82 591.63M587.4 589.84L582.25 589.07M587.78 587.12L582.61 586.49M588.08 584.39L582.89 583.91" stroke="#e41a1c" stroke-width="1" fill="none"/>
<path d="M583.5 605.84L578.56 604.2" stroke="#4daf4a" stroke-width="1" fill="none"/>
<path d="M572.3 618.48A90.94 90.21 0 0 0 574.67 613.84M573.52 616.17L572.36 615.59M575.74 611.47A90.94 90.21 0 0 0 576.75 609.07M576.26 610.28L575.06 609.78M577.69 606.65A90.94 90.21 0 0 0 579.36 601.72M578.56 604.2L577.33 603.79M580.08 599.23A90.94 90.21 0 0 0 580.74 596.71M580.42 597.97L579.16 597.65M581.32 594.18A90.94 90.21 0 0 0 581.82 591.63M581.58 592.91L580.3 592.66M582.25 589.07A90.94 90.21 0 0 0 582.61 586.49M582.44 587.78L581.15 587.61M582.89 583.91L581.59 583.79M572.36 615.59L571.19 615.01M575.06 609.78A89.63 88.92 0 0 0 577.33 603.79M576.25 606.8L575.03 606.35M579.16 597.65A89.63 88.92 0 0 0 581.59 583.79M580.65 590.77L579.37 590.55M571.19 615.01A88.33 87.63 0 0 0 579.37 590.55" stroke="#e41a1c" stroke-width="0.7" fill="none"/>
<path d="M476.84 488.23 A89.33 88.62 0 0 0 448.36 498.37" stroke="#4daf4a" stroke-width="0.9" fill="none" stroke-linecap="butt"/>
<path d="M443.07 503.02 A88.13 87.43 0 0 0 405.08 563.33" stroke="#4daf4a" stroke-width="0.9" fill="none" stroke-linecap="butt"/>
<path d="M443.87 506.81 A84.53 83.85 0 0 0 408.65 563.83" stroke="#4daf4a" stroke-width="0.9" fill="none" stroke-linecap="butt"/>
<path d="M408.65 563.83 L402.3 562.95" stroke="#4daf4a" stroke-width="0.9" fill="none"/>
<path d="M443.87 506.81 L441.8 503.88" stroke="#4daf4a" stroke-width="0.9" fill="none"/>
<path d="M469.18 501.7 A77.92 77.29 0 0 0 426.42 534.31" stroke="#4daf4a" stroke-width="0.95" fill="none" stroke-linecap="butt"/>
<path d="M426.42 534.31 L420.82 530.82" stroke="#4daf4a" stroke-width="0.95" fill="none"/>
<path d="M523.54 504.67 A77.92 77.29 0 0 0 469.18 501.7" stroke="#377eb8" stroke-width="0.95" fill="none" stroke-linecap="butt"/>
<path d="M523.54 504.67 L526.55 497.84" stroke="#377eb8" stroke-width="0.95" fill="none"/>
<path d="M543.76 507.82 A85.43 84.75 0 0 0 507.92 492.17" stroke="#377eb8" stroke-width="0.9" fill="none" stroke-linecap="butt"/>
<path d="M507.92 492.17 L508.56 488.75" stroke="#377eb8" stroke-width="0.9" fill="none"/>
<path d="M543.76 507.82 L545.75 505.2" stroke="#377eb8" stroke-width="0.9" fill="none"/>
<path d="M526.53 494.05 A88.93 88.22 0 0 0 498.55 487.49" stroke="#377eb8" stroke-width="0.9" fill="none" stroke-linecap="butt"/>
<path d="M545.75 505.2 A88.73 88.02 0 0 0 536.18 498.96" stroke="#377eb8" stroke-width="0.9" fill="none" stroke-linecap="butt"/>
<path d="M563.38 522.41 A88.93 88.22 0 0 0 550.7 508.92" stroke="#377eb8" stroke-width="0.9" fill="none" stroke-linecap="butt"/>
<path d="M543.56 603.32 A58.39 57.92 0 0 0 547.91 557.7" stroke="#984ea3" stroke-width="0.95" fill="none" stroke-linecap="butt"/>
<path d="M547.91 557.7 L578.88 547.77" stroke="#984ea3" stroke-width="0.95" fill="none"/>
<path d="M581.43 578.59 A89.13 88.42 0 0 0 569.54 531.29" stroke="#984ea3" stroke-width="0.9" fill="none" stroke-linecap="butt"/>
<path d="M507.36 631.47 A58.39 57.92 0 0 0 543.56 603.32" stroke="#e41a1c" stroke-width="0.95" fill="none" stroke-linecap="butt"/>
<path d="M507.36 631.47 L513.26 653.46" stroke="#e41a1c" stroke-width="0.95" fill="none"/>
<path d="M450.61 644.96 A81.52 80.87 0 0 0 572.43 590.65" stroke="#e41a1c" stroke-width="0.95" fill="none" stroke-linecap="butt"/>
<path d="M572.43 590.65 L578.92 591.88" stroke="#e41a1c" stroke-width="0.95" fill="none"/>
<path d="M578.92 591.88 A88.13 87.43 0 0 0 579.92 585.4" stroke="#e41a1c" stroke-width="0.9" fill="none" stroke-linecap="butt"/>
<path d="M579.92 585.4 L582.7 585.71" stroke="#e41a1c" stroke-width="0.9" fill="none"/>
<path d="M404.08 587.81 A89.13 88.42 0 0 0 412.44 614.68" stroke="#e41a1c" stroke-width="0.9" fill="none" stroke-linecap="butt"/>
<path d="M415.5 613.18 A85.73 85.04 0 0 0 443.55 645.42" stroke="#e41a1c" stroke-width="0.9" fill="none" stroke-linecap="butt"/>
<path d="M415.5 613.18 L410.83 615.47" stroke="#e41a1c" stroke-width="0.9" fill="none"/>
<path d="M443.55 645.42 L440.58 649.67" stroke="#e41a1c" stroke-width="0.9" fill="none"/>
<path d="M428.25 629.24 A83.93 83.26 0 0 0 475.47 657.05" stroke="#e41a1c" stroke-width="0.9" fill="none" stroke-linecap="butt"/>
<path d="M428.25 629.24 L426.87 630.39" stroke="#e41a1c" stroke-width="0.9" fill="none"/>
<path d="M475.47 657.05 L474.55 661.53" stroke="#e41a1c" stroke-width="0.9" fill="none"/>
<path d="M450.61 644.96 L449.38 647.01" stroke="#e41a1c" stroke-width="0.9" fill="none"/>
<path d="M452.07 653.93 A88.73 88.02 0 0 0 467.89 660.11" stroke="#e41a1c" stroke-width="0.9" fill="none" stroke-linecap="butt"/>
<path d="M472.39 661.27 A88.73 88.02 0 0 0 487.71 663.4" stroke="#e41a1c" stroke-width="0.9" fill="none" stroke-linecap="butt"/>
<path d="M496.99 663.4 A88.73 88.02 0 0 0 515.32 660.52" stroke="#e41a1c" stroke-width="0.9" fill="none" stroke-linecap="butt"/>
<path d="M518.47 659.21 A88.33 87.63 0 0 0 533.27 653.16" stroke="#e41a1c" stroke-width="0.9" fill="none" stroke-linecap="butt"/>
<path d="M533.86 650.71 A86.43 85.74 0 0 0 548.94 640.31" stroke="#e41a1c" stroke-width="0.9" fill="none" stroke-linecap="butt"/>
<path d="M534.43 651.75 A87.63 86.93 0 0 0 549.73 641.21" stroke="#e41a1c" stroke-width="0.9" fill="none" stroke-linecap="butt"/>
<path d="M535.01 652.8 A88.83 88.12 0 0 0 550.51 642.11" stroke="#e41a1c" stroke-width="0.9" fill="none" stroke-linecap="butt"/>
<path d="M549.18 637.03 A84.13 83.45 0 0 0 565.21 617.23" stroke="#e41a1c" stroke-width="0.9" fill="none" stroke-linecap="butt"/>
<path d="M551.08 639.08 A86.93 86.24 0 0 0 567.63 618.62" stroke="#e41a1c" stroke-width="0.9" fill="none" stroke-linecap="butt"/>
<path d="M549.18 637.03 L551.08 639.08" stroke="#e41a1c" stroke-width="0.9" fill="none"/>
<path d="M562.95 615.94 L567.63 618.62" stroke="#e41a1c" stroke-width="0.9" fill="none"/>
<path d="M566.6 623.33 A88.53 87.83 0 0 0 575.54 605.54" stroke="#e41a1c" stroke-width="0.9" fill="none" stroke-linecap="butt"/>
<path d="M492.4 575.6 L469.18 501.7" stroke="#377eb8" stroke-width="1" fill="none"/>
<path d="M492.4 575.6 L543.56 603.32" stroke="#e41a1c" stroke-width="1" fill="none"/>
<circle cx="492.4" cy="575.6" r="2.2" fill="#000"/>
<circle cx="469.18" cy="501.7" r="2.2" fill="#000"/>
<circle cx="543.56" cy="603.32" r="2.2" fill="#000"/>
<text transform="matrix(1 0.001 0 1.09 372.1 473.5)" font-size="9" font-family="Liberation Sans, Arial, Helvetica, sans-serif" stroke="#1a1a1a" stroke-width="0.18" fill="#1a1a1a">Northern</text>
<text transform="matrix(1 0.001 0 1.09 372.3 483.7)" font-size="9" font-family="Liberation Sans, Arial, Helvetica, sans-serif" stroke="#1a1a1a" stroke-width="0.18" fill="#1a1a1a">Atlantic group</text>
<text transform="matrix(1 0.001 0 1.09 557.4 473.1)" font-size="9" font-family="Liberation Sans, Arial, Helvetica, sans-serif" stroke="#1a1a1a" stroke-width="0.18" fill="#1a1a1a">Norwegian</text>
<text transform="matrix(1 0.001 0 1.09 557.5 483.1)" font-size="9" font-family="Liberation Sans, Arial, Helvetica, sans-serif" stroke="#1a1a1a" stroke-width="0.18" fill="#1a1a1a">group</text>
<text transform="matrix(1 0.001 0 1.09 601.7 549.2)" font-size="9.35" font-style="italic" font-family="Liberation Sans, Arial, Helvetica, sans-serif" stroke="#1a1a1a" stroke-width="0.18" fill="#1a1a1a">P. jacobeus</text>
<text transform="matrix(1 0.001 0 1.09 359.3 651)" font-size="9" font-family="Liberation Sans, Arial, Helvetica, sans-serif" stroke="#1a1a1a" stroke-width="0.18" fill="#1a1a1a">Southern</text>
<text transform="matrix(1 0.001 0 1.09 359.7 661.2)" font-size="9" font-family="Liberation Sans, Arial, Helvetica, sans-serif" stroke="#1a1a1a" stroke-width="0.18" fill="#1a1a1a">Atlantic group</text>
</g>
</svg>
</body></html>
